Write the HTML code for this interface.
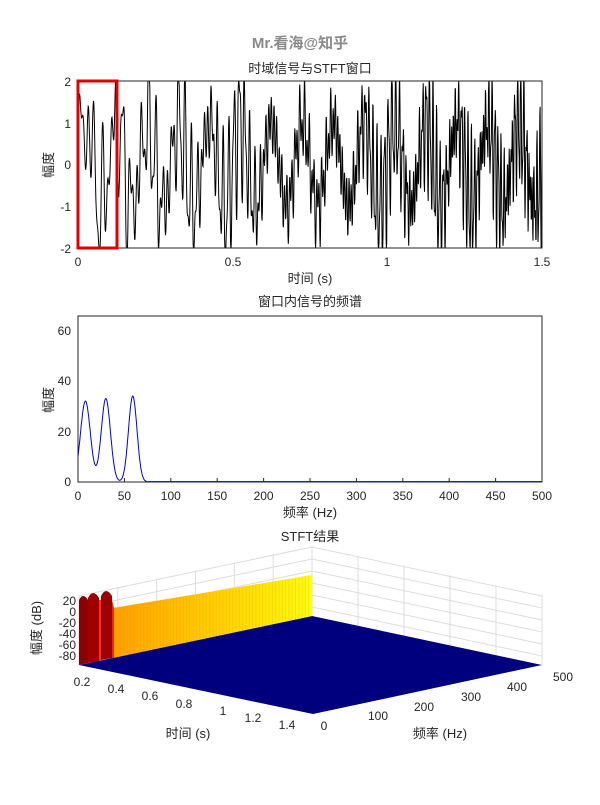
<!DOCTYPE html>
<html><head><meta charset="utf-8"><style>
body{margin:0;background:#fff;}
svg text{font-family:"Liberation Sans","Noto Sans CJK SC",sans-serif;fill:#262626;}
</style></head><body>
<svg id="s" width="600" height="800" viewBox="0 0 600 800" xmlns="http://www.w3.org/2000/svg">
<rect width="600" height="800" fill="#fff"/>
<text x="300" y="48" text-anchor="middle" font-size="15" font-weight="bold" style="fill:#8a8a8a">Mr.看海@知乎</text>
<text x="310" y="73" text-anchor="middle" font-size="13">时域信号与STFT窗口</text>
<g id="top"></g>
<rect x="78" y="81" width="464" height="167" fill="none" stroke="#262626" stroke-width="1"/>
<g font-size="12" text-anchor="end">
<text x="71" y="86">2</text><text x="71" y="128">1</text><text x="71" y="169">0</text><text x="71" y="211">-1</text><text x="71" y="253">-2</text>
</g>
<g font-size="12" text-anchor="middle">
<text x="78" y="266">0</text><text x="233" y="266">0.5</text><text x="387" y="266">1</text><text x="542" y="266">1.5</text>
</g>
<text x="310" y="283" text-anchor="middle" font-size="13">时间 (s)</text>
<text transform="translate(53,165) rotate(-90)" text-anchor="middle" font-size="13">幅度</text>
<rect x="78" y="81" width="39" height="167" fill="none" stroke="#e00000" stroke-width="3"/>

<text x="310" y="306" text-anchor="middle" font-size="13">窗口内信号的频谱</text>
<rect x="78" y="316" width="464" height="166" fill="none" stroke="#262626" stroke-width="1"/>
<g id="mid"></g>
<g font-size="12" text-anchor="end">
<text x="71" y="335">60</text><text x="71" y="385">40</text><text x="71" y="436">20</text><text x="71" y="486">0</text>
</g>
<g font-size="12" text-anchor="middle" id="midx"></g>
<text x="310" y="517" text-anchor="middle" font-size="13">频率 (Hz)</text>
<text transform="translate(53,400) rotate(-90)" text-anchor="middle" font-size="13">幅度</text>

<text x="310" y="541" text-anchor="middle" font-size="13">STFT结果</text>
<defs><linearGradient id="wall" x1="0" x2="1"><stop offset="0" stop-color="#ffa000"/><stop offset="0.5" stop-color="#ffd000"/><stop offset="1" stop-color="#ffff10"/></linearGradient></defs>
<g id="g3"></g>
<polygon points="79,665 312,616 542,665 313,714" fill="#00007f"/>
<polygon points="312,575 312,616 113,658 113,608" fill="url(#wall)"/>
<g id="wallstripes"></g>
<path d="M79,665 L79,600 Q83,592 88,600 L88,663 Z" fill="#8b0000"/>
<path d="M88,663 L88,598 Q93,588 99,598 L99,661 Z" fill="#a00000"/>
<path d="M101,660 L101,596 Q106,586 112,596 L112,658 Z" fill="#9a0000"/>
<path d="M99,661 L99,600 L101,600 L101,660Z" fill="#ff3000"/>
<path d="M112,658 L112,600 L114,608 L114,658Z" fill="#e03000"/>
<g font-size="12" text-anchor="end">
<text x="76" y="605">20</text><text x="76" y="616">0</text><text x="76" y="627">-20</text><text x="76" y="638">-40</text><text x="76" y="649">-60</text><text x="76" y="660">-80</text>
</g>
<text transform="translate(41,628) rotate(-90)" text-anchor="middle" font-size="13">幅度 (dB)</text>
<g font-size="12" text-anchor="middle">
<text x="82" y="686">0.2</text><text x="116" y="693">0.4</text><text x="150" y="700">0.6</text><text x="184" y="708">0.8</text><text x="223" y="715">1</text><text x="253" y="722">1.2</text><text x="287" y="729">1.4</text>
<text x="324" y="730">0</text><text x="378" y="720">100</text><text x="424" y="711">200</text><text x="471" y="701">300</text><text x="517" y="691">400</text><text x="563" y="681">500</text>
</g>
<text x="188" y="738" text-anchor="middle" font-size="13">时间 (s)</text>
<text x="440" y="738" text-anchor="middle" font-size="13">频率 (Hz)</text>
</svg>
<script>
var NS="http://www.w3.org/2000/svg";
function el(p,t,a){var e=document.createElementNS(NS,t);for(var k in a)e.setAttribute(k,a[k]);document.getElementById(p).appendChild(e);return e;}
var d="";
for(var i=0;i<=1500;i++){var t=i/1000;
var v=Math.sin(2*Math.PI*10*t)+0.8*Math.sin(2*Math.PI*(25*t+30*t*t))+0.7*Math.sin(2*Math.PI*(40*t+20*t*t))+0.6*Math.sin(2*Math.PI*(60*t+45*t*t)+1);
v=Math.max(-2,Math.min(2,v));
d+=(i?"L":"M")+(78+t/1.5*464).toFixed(1)+","+(164.5-v*41.75).toFixed(1);}
el("top","path",{d:d,fill:"none",stroke:"#000","stroke-width":"1"});
d="";
function g(f,c,w,a){return a*Math.exp(-Math.pow((f-c)/w,2));}
for(var f=0;f<=500;f+=0.5){
var v=g(f,8,7.5,32)+g(f,30,7,33)+g(f,59,6.5,34);
if(f>75)v=0.15;
d+=(f?"L":"M")+(78+f*0.928).toFixed(1)+","+(482-v*2.53).toFixed(1);}
el("mid","path",{d:d,fill:"none",stroke:"#0000e0","stroke-width":"1"});
for(var k=0;k<=10;k++){var x=78+k*46.4;el("midx","text",{x:x,y:"500"}).textContent=k*50;
el("mid","line",{x1:x,y1:482,x2:x,y2:478,stroke:"#262626"});}
var L=[79,665],B=[312,616],R=[542,665],H=70;
for(var k=0;k<=5;k++){var dy=-9-k*12;
el("g3","line",{x1:L[0],y1:L[1]+dy,x2:B[0],y2:B[1]+dy,stroke:"#ddd"});
el("g3","line",{x1:B[0],y1:B[1]+dy,x2:R[0],y2:R[1]+dy,stroke:"#ddd"});}
for(var k=0;k<=6;k++){var x=L[0]+(B[0]-L[0])*k/6,y=L[1]+(B[1]-L[1])*k/6;
el("g3","line",{x1:x,y1:y,x2:x,y2:y-H,stroke:"#ddd"});}
for(var k=0;k<=5;k++){var x=B[0]+(R[0]-B[0])*k/5,y=B[1]+(R[1]-B[1])*k/5;
el("g3","line",{x1:x,y1:y,x2:x,y2:y-H,stroke:"#ddd"});}
for(var k=0;k<60;k++){var x=114+k*3.3;
el("wallstripes","line",{x1:x,y1:608-(x-113)*33/199,x2:x,y2:658-(x-113)*42/199,stroke:"rgba(255,140,0,0.25)","stroke-width":"1"});}
</script>
</body></html>
